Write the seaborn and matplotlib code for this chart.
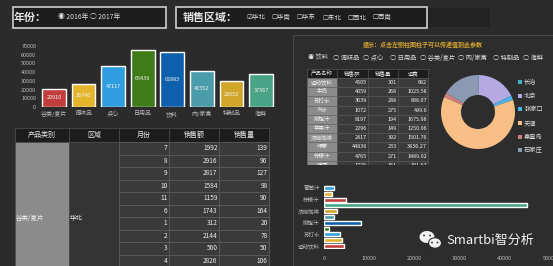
import matplotlib
matplotlib.use("Agg")
import matplotlib.pyplot as plt
import seaborn as sns
from matplotlib.patches import Rectangle, Ellipse

# filters
years = ['2016年', '2017年']
regions = ['华北', '华南', '华东', '东北', '西北', '西南']

# top-left bar chart
categories = ['谷类/麦片', '调味品', '点心', '日用品', '饮料', '肉/家禽', '特制品', '海鲜']
cat_sales = [20910, 26740, 47117, 65439, 62883, 41552, 29552, 37367]
cat_colors = ['#c23d3b', '#e3b42c', '#2f9de0', '#3d7c18', '#0e5fac', '#4a9caa', '#d2a62b', '#49a386']

# bottom-left table
months = [7, 8, 9, 10, 11, 6, 1, 2, 3, 4]
month_sales = [1992, 2916, 2817, 1584, 1159, 1743, 312, 2144, 560, 2826]
month_qty = [139, 96, 127, 98, 90, 164, 20, 78, 50, 106]

# right panel table + horizontal bars
products = ['运动饮料', '牛奶', '苏打水', '汽水', '柳橙汁', '苹果汁', '浓缩咖啡', '绿茶', '柠檬汁', '啤酒', '葡萄汁']
prod_sales = [4505, 4059, 3639, 1072, 8197, 2296, 2817, 44836, 4765, 1725, 2200]
prod_qty = [301, 268, 288, 275, 194, 149, 392, 233, 271, 151]
prod_freight = ['682', '1025.58', '898.07', '499.6', '1675.98', '1250.96', '1501.76', '3836.27', '1489.92', '301.67']

# donut
cities = ['长治', '北京', '张家口', '天津', '秦皇岛', '石家庄']
city_share = [1, 63, 7, 223, 7, 59]
city_colors = ['#3cb3c4', '#b4a9e2', '#4ab4ea', '#f7be86', '#d07f7f', '#8c99b2']

BG = '#2b2b2b'
W, H = 553, 266

sns.set_theme(style="dark", rc={"figure.facecolor": BG, "axes.facecolor": "none"})
plt.rcParams['font.family'] = ['Noto Sans CJK SC', 'DejaVu Sans']


def fs(px):
    return px * 0.72


def px_axes(x, y, w, h):
    return fig.add_axes([x / W, 1 - (y + h) / H, w / W, h / H])


fig = plt.figure(figsize=(W / 100, H / 100), dpi=100)
bg = fig.add_axes([0, 0, 1, 1])
bg.set_xlim(0, W)
bg.set_ylim(H, 0)
bg.axis('off')

# ---- filter bar
bg.add_patch(Rectangle((13, 7), 153, 21, fc='#1d1d1d', ec='#cfcfcf', lw=1.2))
bg.add_patch(Rectangle((176, 7), 251, 21, fc='#1d1d1d', ec='#cfcfcf', lw=1.2))
bg.add_patch(Rectangle((428, 8), 62, 19, fc='#232323', ec='none'))
bg.text(14, 17.5, '年份：', color='#e6e6e6', fontsize=fs(11), fontweight='bold', va='center')
bg.text(58, 17, '◉ ' + years[0] + ' ○ ' + years[1], color='#dddddd', fontsize=fs(6.8), va='center')
bg.text(183, 18, '销售区域：', color='#e6e6e6', fontsize=fs(11), fontweight='bold', va='center')
x0 = 246
for i, r in enumerate(regions):
    mark = '☑' if i == 0 else '☐'
    bg.text(x0 + i * 25.3, 17.5, mark + r, color='#dddddd', fontsize=fs(6.5), va='center')

# ---- bar chart
ax = px_axes(39, 46, 237, 61)
sns.barplot(x=categories, y=cat_sales, hue=categories, palette=cat_colors, legend=False,
            saturation=1, width=0.8, ax=ax)
ax.set_ylim(0, 70000)
ax.set_xlim(-0.5, 7.5)
ax.set_yticks(range(0, 70001, 10000))
ax.tick_params(axis='both', length=0, colors='#bbbbbb', pad=2)
ax.tick_params(axis='y', labelsize=fs(5.5))
ax.tick_params(axis='x', labelsize=fs(6), pad=3)
for s in ax.spines.values():
    s.set_visible(False)
ax.grid(False)
for i, v in enumerate(cat_sales):
    ax.text(i, v / 2, str(v), color='#f4f4f4', fontsize=fs(5.5), ha='center', va='center')

# ---- bottom-left table
cols = [15, 69, 119, 169, 219, 269]
heads = ['产品类别', '区域', '月份', '销售额', '销售量']
bg.add_patch(Rectangle((cols[0], 128), cols[-1] - cols[0], 14, fc='#1c1c1c', ec='#4a4a4a', lw=0.6))
for i, h in enumerate(heads):
    bg.text((cols[i] + cols[i + 1]) / 2, 135, h, color='#e8e8e8', fontsize=fs(7), ha='center', va='center')
    bg.plot([cols[i], cols[i]], [128, 142], color='#4a4a4a', lw=0.6)
rh = 12.5
bg.add_patch(Rectangle((cols[0], 142), cols[1] - cols[0], 130, fc='#8b8b8b', ec='#4a4a4a', lw=0.6))
bg.add_patch(Rectangle((cols[1], 142), cols[2] - cols[1], 130, fc='#343434', ec='#4a4a4a', lw=0.6))
bg.text(cols[0] + 1, 218, '谷类/麦片', color='#f0f0f0', fontsize=fs(6.5), va='center')
bg.text(cols[1] + 1, 218, '华北', color='#f0f0f0', fontsize=fs(6.5), va='center')
for r, (m, s, q) in enumerate(zip(months, month_sales, month_qty)):
    top = 142 + r * rh
    for c in range(2, 5):
        bg.add_patch(Rectangle((cols[c], top), cols[c + 1] - cols[c], rh, fc='#3a3a3a', ec='#575757', lw=0.7))
    for c, val in zip(range(2, 5), [m, s, q]):
        bg.text(cols[c + 1] - 1.5, top + rh / 2, str(val), color='#eeeeee', fontsize=fs(6.5),
                ha='right', va='center')

# ---- right panel
bg.add_patch(Rectangle((293, 35), 270, 240, fc='#2d2d2d', ec='#474747', lw=0.8))
bg.text(423, 44, '提示：点击左侧柱图柱子可以传递值到此参数', color='#d8a62e', fontsize=fs(6),
        fontweight='bold', ha='center', va='center')
radio_x = [308, 333, 363, 390, 420, 458, 493, 523]
radio_cats = ['饮料', '调味品', '点心', '日用品', '谷类/麦片', '肉/家禽', '特制品', '海鲜']
for i, (xx, c) in enumerate(zip(radio_x, radio_cats)):
    mark = '◉ ' if i == 0 else '○ '
    bg.text(xx, 58, mark + c, color='#dddddd', fontsize=fs(6.3), va='center')

tc = [307, 337, 368, 398, 428]
th = ['产品名称', '销售额', '销售量', '运费']
bg.add_patch(Rectangle((tc[0], 69), tc[-1] - tc[0], 9, fc='#1c1c1c', ec='#4a4a4a', lw=0.6))
for i, h in enumerate(th):
    bg.text((tc[i] + tc[i + 1]) / 2, 73.5, h, color='#e8e8e8', fontsize=fs(5.5), ha='center', va='center')
    bg.plot([tc[i], tc[i]], [69, 78], color='#4a4a4a', lw=0.6)
rh2 = 9.2
for r, (p, s, q, f) in enumerate(zip(products, prod_sales, prod_qty, prod_freight)):
    top = 78 + r * rh2
    bg.add_patch(Rectangle((tc[0], top), tc[1] - tc[0], rh2, fc='#8b8b8b', ec='#6a6a6a', lw=0.5))
    for c in range(1, 4):
        bg.add_patch(Rectangle((tc[c], top), tc[c + 1] - tc[c], rh2, fc='#3a3a3a', ec='#575757', lw=0.5))
    bg.text((tc[0] + tc[1]) / 2, top + rh2 / 2, p, color='#f2f2f2', fontsize=fs(5.5), ha='center', va='center')
    for c, val in zip(range(1, 4), [s, q, f]):
        bg.text(tc[c + 1] - 1, top + rh2 / 2, str(val), color='#f0f0f0', fontsize=fs(5.5),
                ha='right', va='center')
bg.add_patch(Rectangle((tc[0] - 1, 165), tc[-1] - tc[0] + 2, 12, fc='#2d2d2d', ec='none', zorder=5))

# donut
dax = px_axes(441, 75, 74, 74)
dax.pie(city_share, colors=city_colors, startangle=90, counterclock=False,
        wedgeprops=dict(width=20 / 37, edgecolor='none'))
dax.set_xlim(-1, 1)
dax.set_ylim(-1, 1)
legend_y = [82, 96, 109, 123, 137, 150]
for yy, c, col in zip(legend_y, cities, city_colors):
    bg.add_patch(Rectangle((518, yy - 2), 4, 4, fc=col, ec='none'))
    bg.text(524, yy, c, color='#dddddd', fontsize=fs(6.3), va='center')

# horizontal bars
hax = px_axes(324, 185, 226, 64)
order = products[::-1]
hue_cols = [cat_colors[i % len(cat_colors)] for i in range(len(products))][::-1]
sns.barplot(x=prod_sales[::-1], y=order, hue=order, palette=hue_cols, legend=False,
            saturation=1, width=0.7, orient='h', ax=hax)
hax.set_xlim(0, 50000)
hax.set_ylim(10.5, -0.5)
hax.set_xticks(range(0, 50001, 10000))
hax.set_yticks(range(len(order)))
hax.set_yticklabels([lab if i % 2 == 0 else '' for i, lab in enumerate(order)])
hax.tick_params(axis='both', length=0, colors='#bbbbbb', labelsize=fs(5.5), pad=3)
hax.tick_params(axis='x', pad=5)
for s in hax.spines.values():
    s.set_visible(False)
hax.grid(False)

# watermark
bg.add_patch(Ellipse((427, 237), 15, 12, fc='#f2f2f2', ec='none', zorder=6))
bg.add_patch(Ellipse((435, 243), 13, 10.5, fc='#f2f2f2', ec=BG, lw=0.8, zorder=7))
for ex, ey in [(424, 235.5), (430, 235.5), (432, 242.5), (437.5, 242.5)]:
    bg.add_patch(Ellipse((ex, ey), 1.8, 1.8, fc=BG, ec='none', zorder=8))
bg.text(446, 240, 'Smartbi智分析', color='#f4f4f4', fontsize=fs(13), va='center', zorder=8)

fig.savefig('out.png', dpi=100, facecolor=BG)
